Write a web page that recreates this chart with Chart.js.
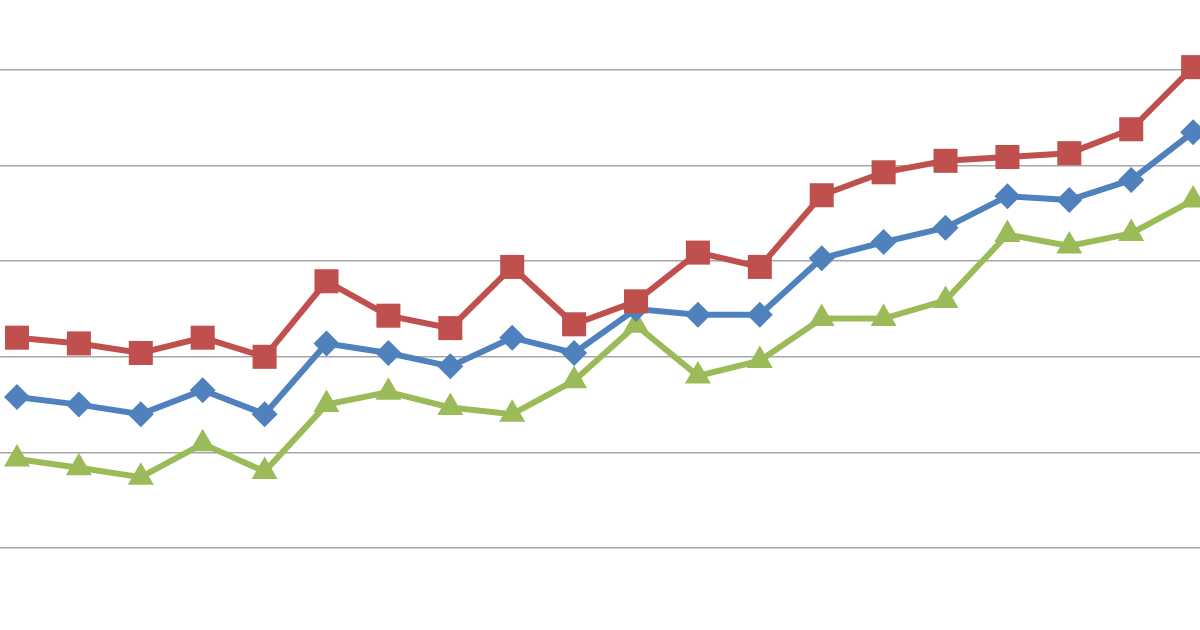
<!DOCTYPE html>
<html>
<head>
<meta charset="utf-8">
<script src="https://cdn.jsdelivr.net/npm/chart.js@4.4.1/dist/chart.umd.min.js"></script>
<style>
  html, body { margin: 0; padding: 0; background: #fff; overflow: hidden; }
  #wrap { position: absolute; left: 0; top: 0; width: 1200px; height: 630px; }
</style>
</head>
<body>
<div id="wrap"><canvas id="c" width="1200" height="630"></canvas></div>
<script>
// Categories (20 periods, unlabeled in the reference crop)
const categories = ['1','2','3','4','5','6','7','8','9','10','11','12','13','14','15','16','17','18','19','20'];
// Y gridline values
const yTicks = [0, 10, 20, 30, 40, 50];
// Series values
const redSeries   = [22.0, 21.4, 20.4, 22.0, 20.0, 27.9, 24.3, 23.0, 29.4, 23.4, 25.8, 30.9, 29.4, 36.9, 39.3, 40.5, 40.9, 41.3, 43.8, 50.3];
const blueSeries  = [15.8, 15.0, 14.0, 16.5, 14.0, 21.4, 20.4, 19.0, 22.0, 20.4, 25.0, 24.4, 24.4, 30.3, 32.0, 33.5, 36.8, 36.4, 38.5, 43.5];
const greenSeries = [ 9.3,  8.4,  7.4, 10.9,  8.0, 15.0, 16.3, 14.7, 14.0, 17.5, 23.3, 18.0, 19.6, 24.0, 24.0, 25.9, 32.8, 31.6, 32.9, 36.4];

const toPts = arr => arr.map((v, i) => ({ x: i, y: v }));

new Chart(document.getElementById('c'), {
  type: 'line',
  data: {
    labels: categories,
    datasets: [
      {
        label: 'Series 2',
        data: toPts(redSeries),
        borderColor: '#C0504D',
        backgroundColor: '#C0504D',
        borderWidth: 6,
        pointStyle: 'rect',
        pointRadius: 17,
        pointBorderWidth: 0,
        tension: 0,
        clip: false
      },
      {
        label: 'Series 1',
        data: toPts(blueSeries),
        borderColor: '#4F81BD',
        backgroundColor: '#4F81BD',
        borderWidth: 6,
        pointStyle: 'rectRot',
        pointRadius: 13,
        pointBorderWidth: 0,
        tension: 0,
        clip: false
      },
      {
        label: 'Series 3',
        data: toPts(greenSeries),
        borderColor: '#9BBB59',
        backgroundColor: '#9BBB59',
        borderWidth: 6,
        pointStyle: 'triangle',
        pointRadius: 15,
        pointBorderWidth: 0,
        tension: 0,
        clip: false
      }
    ]
  },
  options: {
    responsive: false,
    animation: false,
    devicePixelRatio: 1,
    layout: { padding: { top: 70, bottom: 82, left: 0, right: 0 }, autoPadding: false },
    plugins: { legend: { display: false }, tooltip: { enabled: false } },
    scales: {
      x: {
        type: 'linear',
        min: -0.2746,
        max: 19.111,
        display: false
      },
      y: {
        min: 0,
        max: 50,
        display: true,
        afterBuildTicks: s => { s.ticks = yTicks.map(v => ({ value: v })); },
        afterFit: s => { s.width = 0; },
        grid: { color: '#A6A6A6', lineWidth: 1.5, drawTicks: false },
        border: { display: false },
        ticks: { display: false, padding: 0 }
      }
    }
  }
});
</script>
</body>
</html>
